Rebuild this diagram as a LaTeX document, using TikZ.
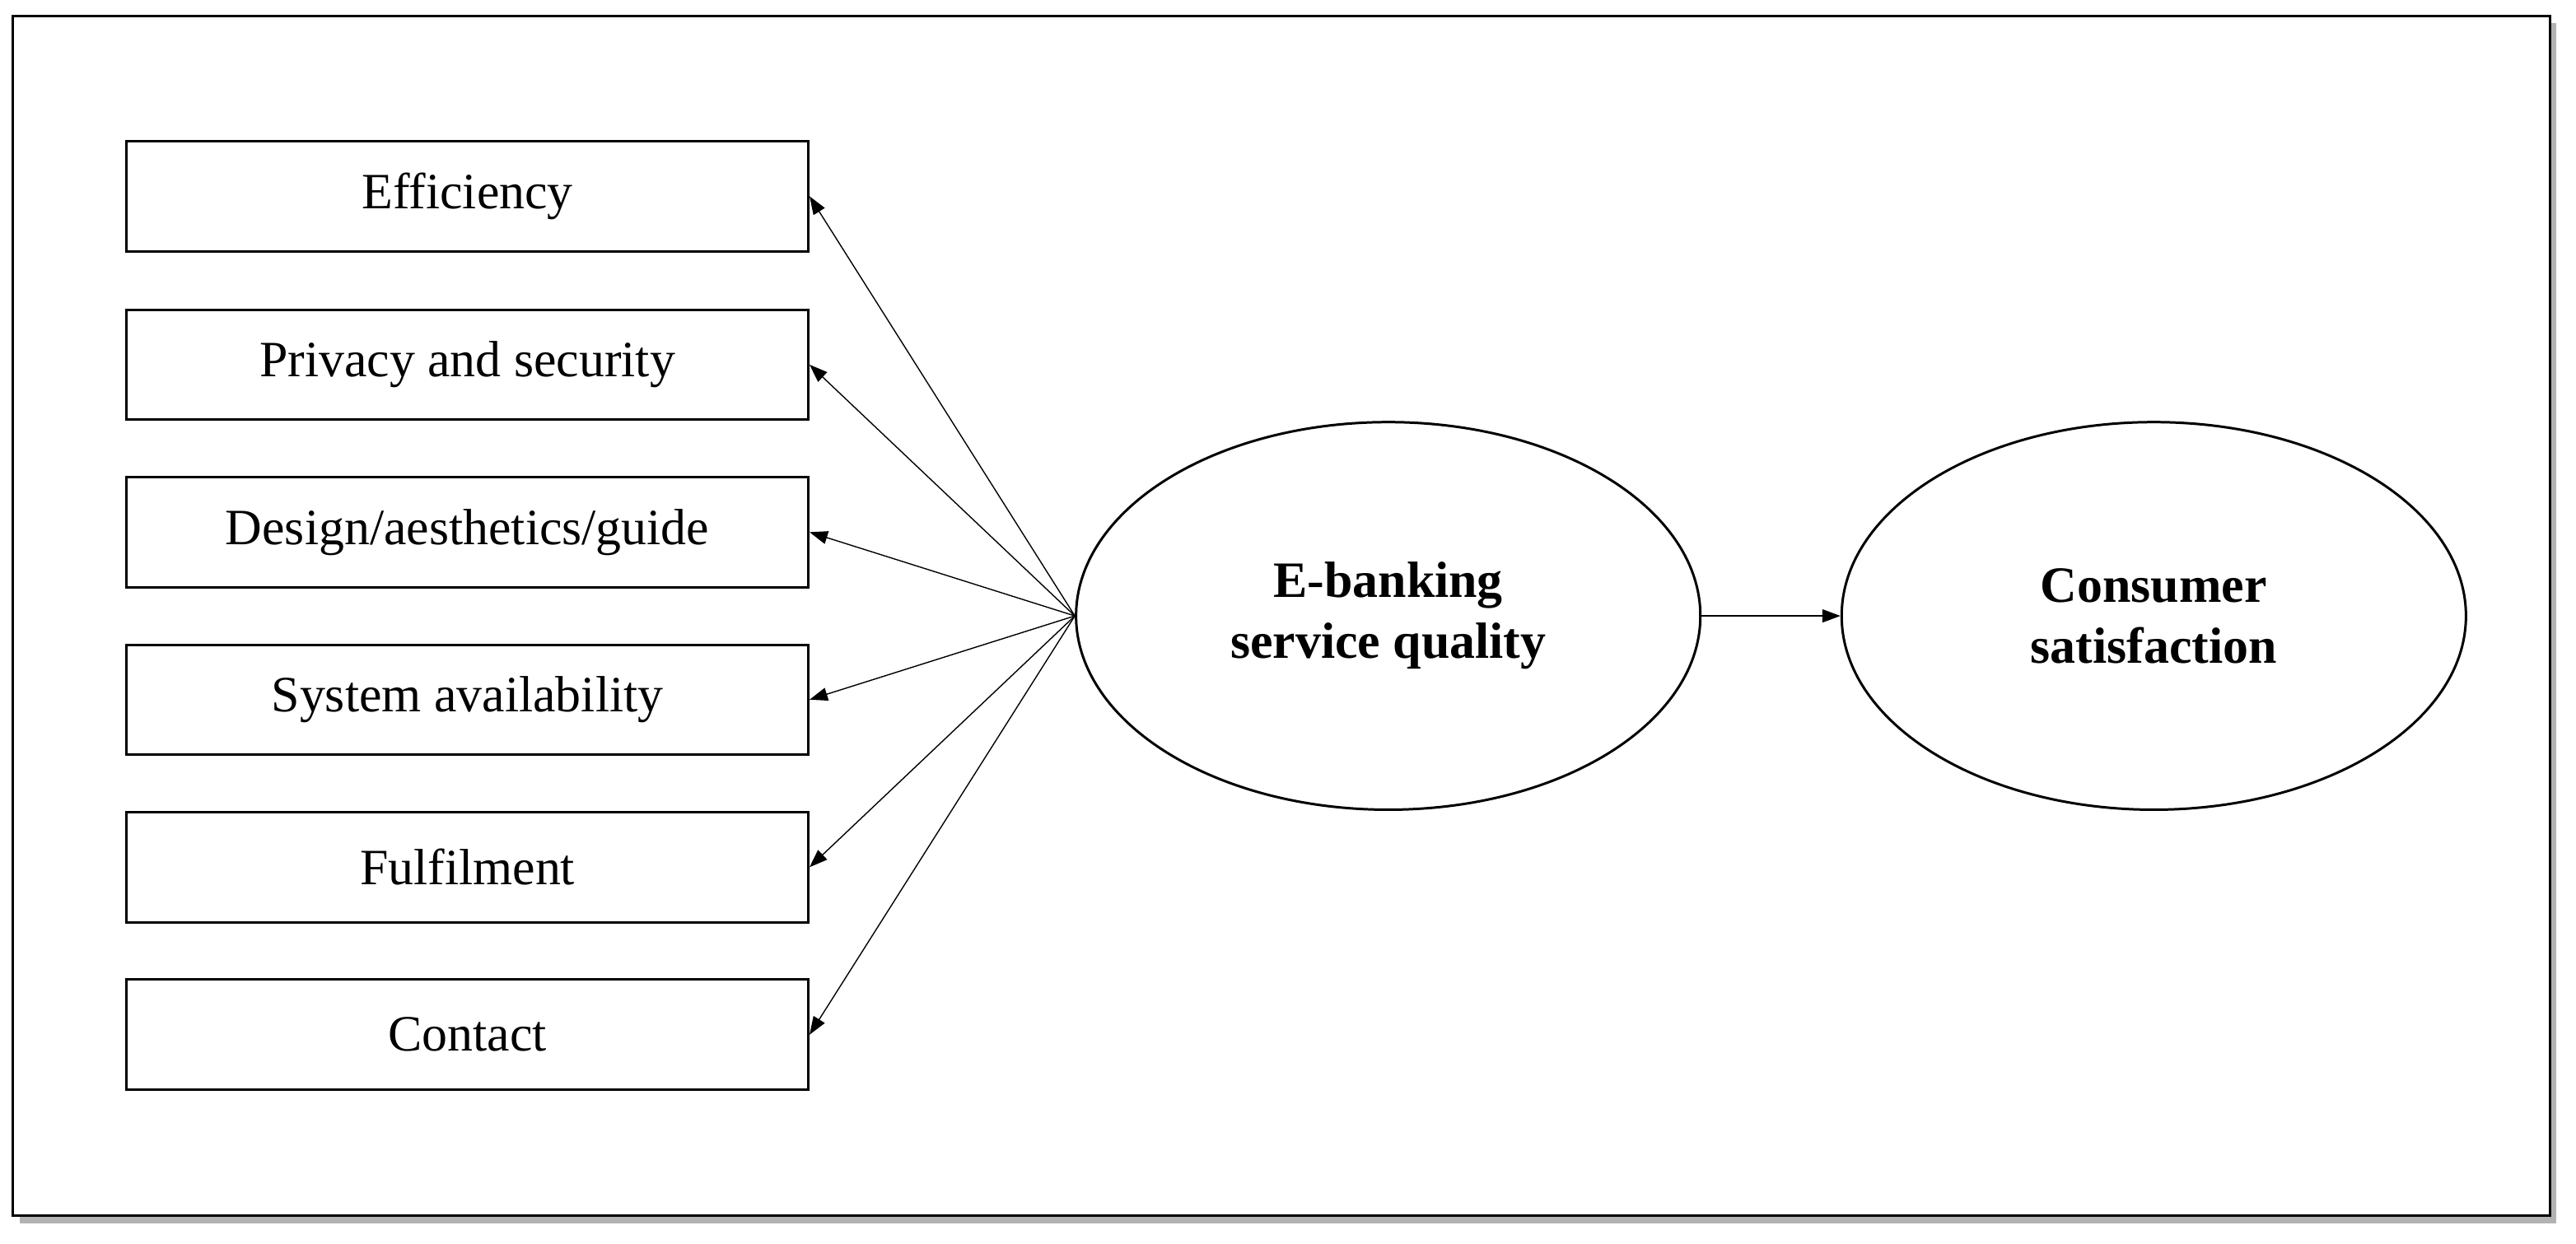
\documentclass[tikz,border=0pt]{standalone}
\usepackage{fontspec}
\setmainfont{Liberation Serif}
\usetikzlibrary{arrows.meta,shapes.geometric}
\begin{document}
\begin{tikzpicture}[x=1pt,y=-1pt,
  box/.style={draw,line width=1.5pt,minimum width=415pt,minimum height=67pt,inner sep=0pt,font=\fontsize{31}{37}\selectfont},
  ell/.style={draw,ellipse,line width=1.5pt,minimum width=380pt,minimum height=236pt,inner sep=0pt,align=center,font=\fontsize{31}{37}\selectfont\bfseries},
  arr/.style={line width=0.7pt,-{Triangle[length=11pt,width=8pt]}}]
\useasboundingbox (0,0) rectangle (1568,757);
\fill[gray!60] (12,14) rectangle (1556,745);
\draw[line width=1.5pt,fill=white] (8,10) rectangle (1552,740);
\node[box] (b1) at (284.5,119.5) {Efficiency};
\node[box] (b2) at (284.5,222) {Privacy and security};
\node[box] (b3) at (284.5,324) {Design/aesthetics/guide};
\node[box] (b4) at (284.5,426) {System availability};
\node[box] (b5) at (284.5,528) {Fulfilment};
\node[box] (b6) at (284.5,630) {Contact};
\node[ell] (e1) at (845,375) {E-banking\\service quality};
\node[ell] (e2) at (1311,375) {Consumer\\satisfaction};
\foreach \b in {b1,b2,b3,b4,b5,b6}{\draw[arr] (e1.west) -- (\b.east);}
\draw[arr] (e1.east) -- (e2.west);
\end{tikzpicture}
\end{document}
